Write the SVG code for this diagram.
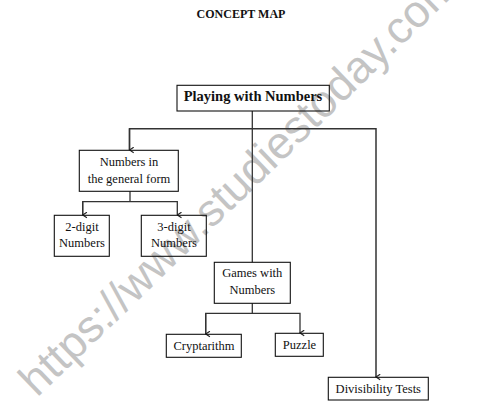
<svg xmlns="http://www.w3.org/2000/svg" width="492" height="416" viewBox="0 0 492 416">
<style>
.box{fill:none;stroke:#111;stroke-width:1.1}
.t{font-family:"Liberation Serif","Times New Roman",serif;font-size:12.5px;fill:#111;text-anchor:middle}
.tb{font-family:"Liberation Serif","Times New Roman",serif;font-weight:bold;fill:#111;text-anchor:middle}
.c{fill:none;stroke:#333;stroke-width:1.3}
.wm{font-family:"Liberation Sans",Arial,sans-serif;font-size:45px;fill:#c4c4c4}
</style>
<defs>
<marker id="ah" viewBox="0 0 10 10" refX="5" refY="9" markerWidth="7" markerHeight="7" orient="auto-start-reverse" markerUnits="userSpaceOnUse">
<path d="M1,3 L5,9 L9,3" fill="none" stroke="#222" stroke-width="1.6"/>
</marker>
</defs>
<rect width="492" height="416" fill="#fff"/>
<text class="wm" x="37" y="398" transform="rotate(-44 37 398)">https://www.studiestoday.com</text>
<text class="tb" x="241" y="17.5" font-size="12px">CONCEPT MAP</text>
<g id="connectors">
<path class="c" d="M252.3,111 V262.3"/>
<path class="c" d="M129.5,150 V128.7 H376 V377" style="stroke-width:1.5" marker-end="url(#ah)"/>
<path class="c" d="M129.5,128.7 V150" marker-end="url(#ah)"/>
<path class="c" d="M130,191.3 V201.7"/>
<path class="c" d="M82.7,215 V201.7 H177.3 V215" marker-end="url(#ah)"/>
<path class="c" d="M82.7,201.7 V215" marker-end="url(#ah)"/>
<path class="c" d="M252.3,303.3 V313.3"/>
<path class="c" d="M205.7,334 V313.3 H300 V333" marker-end="url(#ah)"/>
<path class="c" d="M205.7,313.3 V334" marker-end="url(#ah)"/>
</g>
<g id="n-main">
<rect class="box" x="177" y="85.3" width="152.3" height="25.7"/>
<text class="tb" x="253" y="101" font-size="14.5px">Playing with Numbers</text>
</g>
<g id="n-general">
<rect class="box" x="79.3" y="150.3" width="99" height="41"/>
<text class="t" x="129" y="166">Numbers in</text>
<text class="t" x="129" y="182.5">the general form</text>
</g>
<g id="n-2digit">
<rect class="box" x="54.3" y="215.3" width="55" height="41"/>
<text class="t" x="82" y="230.5">2-digit</text>
<text class="t" x="82" y="246.5">Numbers</text>
</g>
<g id="n-3digit">
<rect class="box" x="141.3" y="215.3" width="65" height="41"/>
<text class="t" x="174" y="230.5">3-digit</text>
<text class="t" x="174" y="246.5">Numbers</text>
</g>
<g id="n-games">
<rect class="box" x="214.3" y="262.3" width="76" height="41"/>
<text class="t" x="252.3" y="277">Games with</text>
<text class="t" x="252.3" y="293.5">Numbers</text>
</g>
<g id="n-crypt">
<rect class="box" x="166.3" y="334.3" width="75" height="23"/>
<text class="t" x="204" y="350">Cryptarithm</text>
</g>
<g id="n-puzzle">
<rect class="box" x="275.3" y="333.3" width="48" height="23"/>
<text class="t" x="299.5" y="349">Puzzle</text>
</g>
<g id="n-div">
<rect class="box" x="328.3" y="377.3" width="100" height="22.7"/>
<text class="t" x="378.3" y="393">Divisibility Tests</text>
</g>
</svg>
